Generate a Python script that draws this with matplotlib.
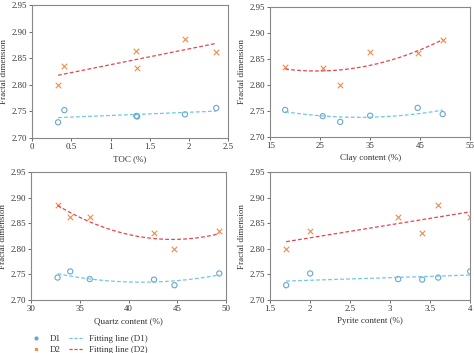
import numpy as np
import matplotlib
matplotlib.use("Agg")
import matplotlib.pyplot as plt
from matplotlib.lines import Line2D

plt.rcParams['font.family'] = ['Liberation Serif', 'DejaVu Serif']

# Data (six samples)
toc = [0.33, 0.41, 1.33, 1.34, 1.95, 2.35]
clay = [29.0, 18.0, 35.0, 25.5, 49.5, 44.5]
quartz = [44.7, 49.3, 36.0, 42.6, 32.7, 34.0]
pyrite = [1.7, 2.0, 3.1, 3.4, 3.6, 4.0]
d1 = [2.729, 2.752, 2.741, 2.740, 2.744, 2.756]
d2 = [2.800, 2.835, 2.863, 2.832, 2.886, 2.862]

panels = [
    (toc, "TOC (%)", (0, 2.5), [0, 0.5, 1, 1.5, 2, 2.5], ["0", "0.5", "1", "1.5", "2", "2.5"], 1),
    (clay, "Clay content (%)", (15, 55), [15, 25, 35, 45, 55], ["15", "25", "35", "45", "55"], 2),
    (quartz, "Quartz content (%)", (30, 50), [30, 35, 40, 45, 50], ["30", "35", "40", "45", "50"], 2),
    (pyrite, "Pyrite content (%)", (1.5, 4), [1.5, 2, 2.5, 3, 3.5, 4], ["1.5", "2", "2.5", "3", "3.5", "4"], 1),
]

positions = [
    [0.068, 0.610, 0.413, 0.375],
    [0.570, 0.612, 0.422, 0.368],
    [0.066, 0.150, 0.411, 0.362],
    [0.570, 0.150, 0.422, 0.362],
]

c_d1 = "#6aa6cf"
c_d2 = "#ee8c4a"
c_f1 = "#6fc7e8"
c_f2 = "#e5454f"

fig = plt.figure(figsize=(4.74, 3.53), dpi=100)
for (x, xlabel, xlim, xt, xtl, deg), pos in zip(panels, positions):
    ax = fig.add_axes(pos)
    x = np.array(x)
    xs = np.linspace(x.min(), x.max(), 100)
    for y, cf in ((d1, c_f1), (d2, c_f2)):
        p = np.polyfit(x, y, deg)
        ax.plot(xs, np.polyval(p, xs), ls=(0, (3, 1.8)), color=cf, lw=0.9)
    ax.scatter(x, d1, marker='o', s=14, facecolors='none', edgecolors=c_d1, linewidths=0.8)
    ax.scatter(x, d2, marker='x', s=16, color=c_d2, linewidths=0.8)
    ax.set_xlim(*xlim)
    ax.set_ylim(2.70, 2.95)
    ax.set_xticks(xt)
    ax.set_xticklabels(xtl)
    ax.set_yticks([2.70, 2.75, 2.80, 2.85, 2.90, 2.95])
    ax.set_yticklabels(["2.70", "2.75", "2.80", "2.85", "2.90", "2.95"])
    ax.tick_params(labelsize=6.3, length=2, width=0.6, color="#555555", labelcolor="#333333", pad=1.5)
    for s in ax.spines.values():
        s.set_color("#888888")
        s.set_linewidth(0.8)
    ax.set_xlabel(xlabel, fontsize=6.5, color="#333333", labelpad=3)
    ax.set_ylabel("Fractal dimension", fontsize=6.5, color="#333333", labelpad=3)

handles = [
    Line2D([], [], marker='o', ls='none', color=c_d1, markersize=2),
    Line2D([], [], marker='x', ls='none', color=c_d2, markersize=2),
    Line2D([], [], ls=(0, (2.5, 1.5)), color=c_f1, lw=0.9),
    Line2D([], [], ls=(0, (2.5, 1.5)), color=c_f2, lw=0.9),
]
labels = ["D1", "D2", "Fitting line (D1)", "Fitting line (D2)"]
fig.legend(handles, labels, ncol=2, loc='lower left', bbox_to_anchor=(0.045, -0.025),
           frameon=False, fontsize=6.5, handlelength=1.5, handletextpad=0.7,
           columnspacing=1.0, labelspacing=0.25, labelcolor="#333333")

fig.savefig("out.png", dpi=100)
